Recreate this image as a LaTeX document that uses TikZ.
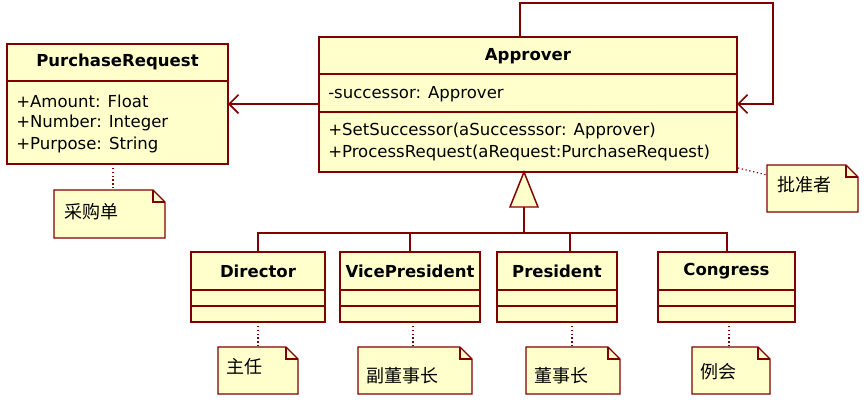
\documentclass[tikz,border=0pt]{standalone}
\usepackage{fontspec}
\setmainfont{DejaVu Sans}
\newfontfamily\cjk{Noto Sans CJK SC}
\usetikzlibrary{arrows.meta}
\definecolor{uml}{RGB}{128,0,0}
\definecolor{umlfill}{RGB}{255,255,204}
\tikzset{
 box/.style={draw=uml,fill=umlfill,line width=1.3pt},
 sep/.style={draw=uml,line width=1.3pt},
 link/.style={draw=uml,line width=1.3pt},
 dots/.style={draw=uml,line width=0.9pt,dotted},
 txt/.style={inner sep=0pt,anchor=west,font=\fontsize{12.4}{14}\selectfont},
 ttl/.style={inner sep=0pt,font=\fontsize{12.4}{14}\selectfont\bfseries},
 ntxt/.style={inner sep=0pt,anchor=west,font=\cjk\fontsize{13.5}{15}\selectfont},
}
\newcommand{\umlnote}[5]{% name, x1,y1,x2,y2
 \draw[box,line width=0.9pt] (#2,#3) -- (#4-12,#3) -- (#4,#3+12) -- (#4,#5) -- (#2,#5) -- cycle;
 \draw[box,line width=0.9pt,fill=none] (#4-12,#3) -- (#4-12,#3+12) -- (#4,#3+12);
 \coordinate (#1) at ({(#2+#4)/2},#3);
}
\begin{document}
\begin{tikzpicture}[x=0.75pt,y=-0.75pt]
\useasboundingbox (0,0) rectangle (867,412);
% PurchaseRequest
\draw[box] (7,44) rectangle (228,164);
\draw[sep] (7,81) -- (228,81);
\node[ttl] (prt) at (117.5,62) {PurchaseRequest};
\node[txt] (pr1) at (16,101) {+Amount: Float};
\node[txt] (pr2) at (16,123) {+Number: Integer};
\node[txt] (pr3) at (16,145) {+Purpose: String};
\coordinate (prR) at (228,104);
\coordinate (prB) at (113,164);
% Approver
\draw[box] (319,37) rectangle (737,172);
\draw[sep] (319,74) -- (737,74);
\draw[sep] (319,112) -- (737,112);
\node[ttl] (apt) at (528,56) {Approver};
\node[txt] (ap1) at (328,94) {-successor: Approver};
\node[txt] (ap2) at (328,131) {+SetSuccessor(aSuccesssor: Approver)};
\node[txt] (ap3) at (328,153) {+ProcessRequest(aRequest:PurchaseRequest)};
\coordinate (apL) at (319,104);
\coordinate (apT) at (520,37);
\coordinate (apR) at (737,104);
\coordinate (apB) at (524,172);
\coordinate (apC) at (738,168);
% associations
\draw[link,-{Straight Barb[length=7pt,width=14pt]}] (apL) -- (prR);
\draw[link,-{Straight Barb[length=7pt,width=14pt]}] (apT) -- (520,3) -- (773,3) -- (773,104) -- (apR);
% subclasses
\foreach \n/\a/\b/\t in {dir/191/325/Director,vp/340/480/VicePresident,pres/497/617/President,con/658/795/Congress}{
 \draw[box] (\a,252) rectangle (\b,322);
 \draw[sep] (\a,290) -- (\b,290);
 \draw[sep] (\a,306) -- (\b,306);
 \node[ttl] (\n) at ({(\a+\b)/2},271) {\t};
}
% generalization
\draw[link] (258,252) -- (258,233) -- (727,233) -- (727,252);
\draw[link] (410,233) -- (410,252);
\draw[link] (570,233) -- (570,252);
\draw[link] (524,233) -- (524,207);
\draw[box,line width=1.1pt] (apB) -- (538,207) -- (510,207) -- cycle;
% notes
\umlnote{n0}{54}{190}{165}{238}
\node[ntxt] (t0) at (64,212) {采购单};
\draw[dots] (prB) -- (113,190);
\umlnote{n1}{767}{165}{858}{212}
\node[ntxt] (t1) at (777,185) {批准者};
\draw[dots] (apC) -- (767,175);
\umlnote{n2}{218}{347}{298}{394}
\node[ntxt] (t2) at (226,367) {主任};
\draw[dots] (258,322) -- (258,347);
\umlnote{n3}{358}{347}{472}{394}
\node[ntxt] (t3) at (366,376) {副董事长};
\draw[dots] (413,322) -- (413,347);
\umlnote{n4}{526}{347}{620}{394}
\node[ntxt] (t4) at (534,376) {董事长};
\draw[dots] (572,322) -- (572,347);
\umlnote{n5}{692}{347}{770}{394}
\node[ntxt] (t5) at (700,372) {例会};
\draw[dots] (729,322) -- (729,347);
\end{tikzpicture}
\end{document}
